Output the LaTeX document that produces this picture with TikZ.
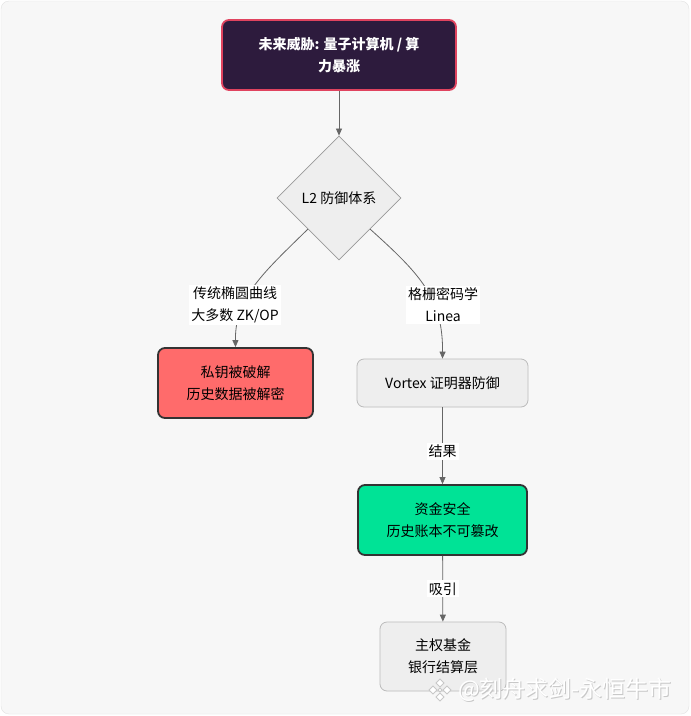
\documentclass[tikz,border=0pt]{standalone}
\usepackage{fontspec}
\setmainfont{Noto Sans CJK SC}
\usetikzlibrary{shapes.geometric,arrows.meta}
\definecolor{bgc}{HTML}{F7F7F7}
\definecolor{bgborder}{HTML}{E2E2E2}
\definecolor{topfill}{HTML}{2D1B3D}
\definecolor{topborder}{HTML}{E0435F}
\definecolor{redfill}{HTML}{FF6B6B}
\definecolor{greenfill}{HTML}{00E396}
\definecolor{grayfill}{HTML}{EEEEEE}
\definecolor{grayborder}{HTML}{BBBBBB}
\definecolor{diaborder}{HTML}{999999}
\definecolor{darkborder}{HTML}{333333}
\definecolor{edgec}{HTML}{666666}
\definecolor{wmshadow}{HTML}{C8C8C8}
\tikzset{
  basebox/.style={rectangle, rounded corners=7pt, align=center, inner sep=0pt,
    font=\fontsize{14}{22}\selectfont, text=black},
  topbox/.style={basebox, fill=topfill, draw=topborder, line width=1.8pt, text=white,
    minimum width=234pt, minimum height=70pt},
  redbox/.style={basebox, fill=redfill, draw=darkborder, line width=1.8pt,
    minimum width=155pt, minimum height=70pt},
  greenbox/.style={basebox, fill=greenfill, draw=darkborder, line width=1.8pt,
    minimum width=169pt, minimum height=70pt},
  graybox/.style={basebox, fill=grayfill, draw=grayborder, line width=0.8pt},
  decision/.style={diamond, aspect=1, fill=grayfill, draw=diaborder, line width=0.8pt,
    minimum width=124pt, minimum height=124pt, inner sep=0pt,
    font=\fontsize{14}{22}\selectfont},
  elabel/.style={fill=white, align=center, inner sep=2pt,
    font=\fontsize{14}{22}\selectfont},
  flow/.style={draw=edgec, line width=0.8pt, -{Triangle[length=7pt,width=6pt]}},
  wmtext/.style={font=\fontsize{23}{26}\selectfont, anchor=west, inner sep=0pt},
  wmlogo/.style={fill=white, draw=wmshadow, line width=0.8pt},
}
\begin{document}
\begin{tikzpicture}[x=1pt,y=-1pt]
\useasboundingbox (0,0) rectangle (691,716);
\fill[white] (0,0) rectangle (691,716);
\draw[fill=bgc, draw=bgborder, rounded corners=8pt] (1,1) rectangle (689,714);

\node[topbox] (threat) at (339,55) {\bfseries 未来威胁: 量子计算机 / 算\\\bfseries 力暴涨};
\node[decision] (l2) at (339,198) {L2 防御体系};
\node[redbox] (broken) at (235.5,383) {私钥被破解\\历史数据被解密};
\node[graybox, minimum width=171pt, minimum height=48pt] (vortex) at (442.5,383) {Vortex 证明器防御};
\node[greenbox] (safe) at (442.5,520) {资金安全\\历史账本不可篡改};
\node[graybox, minimum width=126pt, minimum height=69pt] (bank) at (443,656.5) {主权基金\\银行结算层};

\draw[flow] (threat) -- (l2);
\draw[flow] (l2.south west) .. controls (262,274) and (235,298) .. (broken.north);
\draw[flow] (l2.south east) .. controls (420,274) and (443,298) .. (vortex.north);
\node[elabel] (lblL) at (235,305) {传统椭圆曲线\\大多数 ZK/OP};
\node[elabel] (lblR) at (443,305) {格栅密码学\\Linea};
\draw[flow] (vortex) -- (safe) node[elabel, pos=0.57] (lblRes) {结果};
\draw[flow] (safe) -- (bank) node[elabel, midway] (lblAtt) {吸引};

% watermark
\begin{scope}[shift={(440,690)}]
  \draw[wmlogo] (0,-11) -- (4,-7) -- (0,-3) -- (-4,-7) -- cycle;
  \draw[wmlogo] (0,11) -- (4,7) -- (0,3) -- (-4,7) -- cycle;
  \draw[wmlogo] (-11,0) -- (-7,4) -- (-3,0) -- (-7,-4) -- cycle;
  \draw[wmlogo] (11,0) -- (7,4) -- (3,0) -- (7,-4) -- cycle;
  \draw[wmlogo] (0,-2) -- (2,0) -- (0,2) -- (-2,0) -- cycle;
\end{scope}
\node[wmtext, text=wmshadow] (wmshade) at (458.8,690.8) {@刻舟求剑-永恒牛市};
\node[wmtext, text=white] (wm) at (458,690) {@刻舟求剑-永恒牛市};
\end{tikzpicture}
\end{document}
